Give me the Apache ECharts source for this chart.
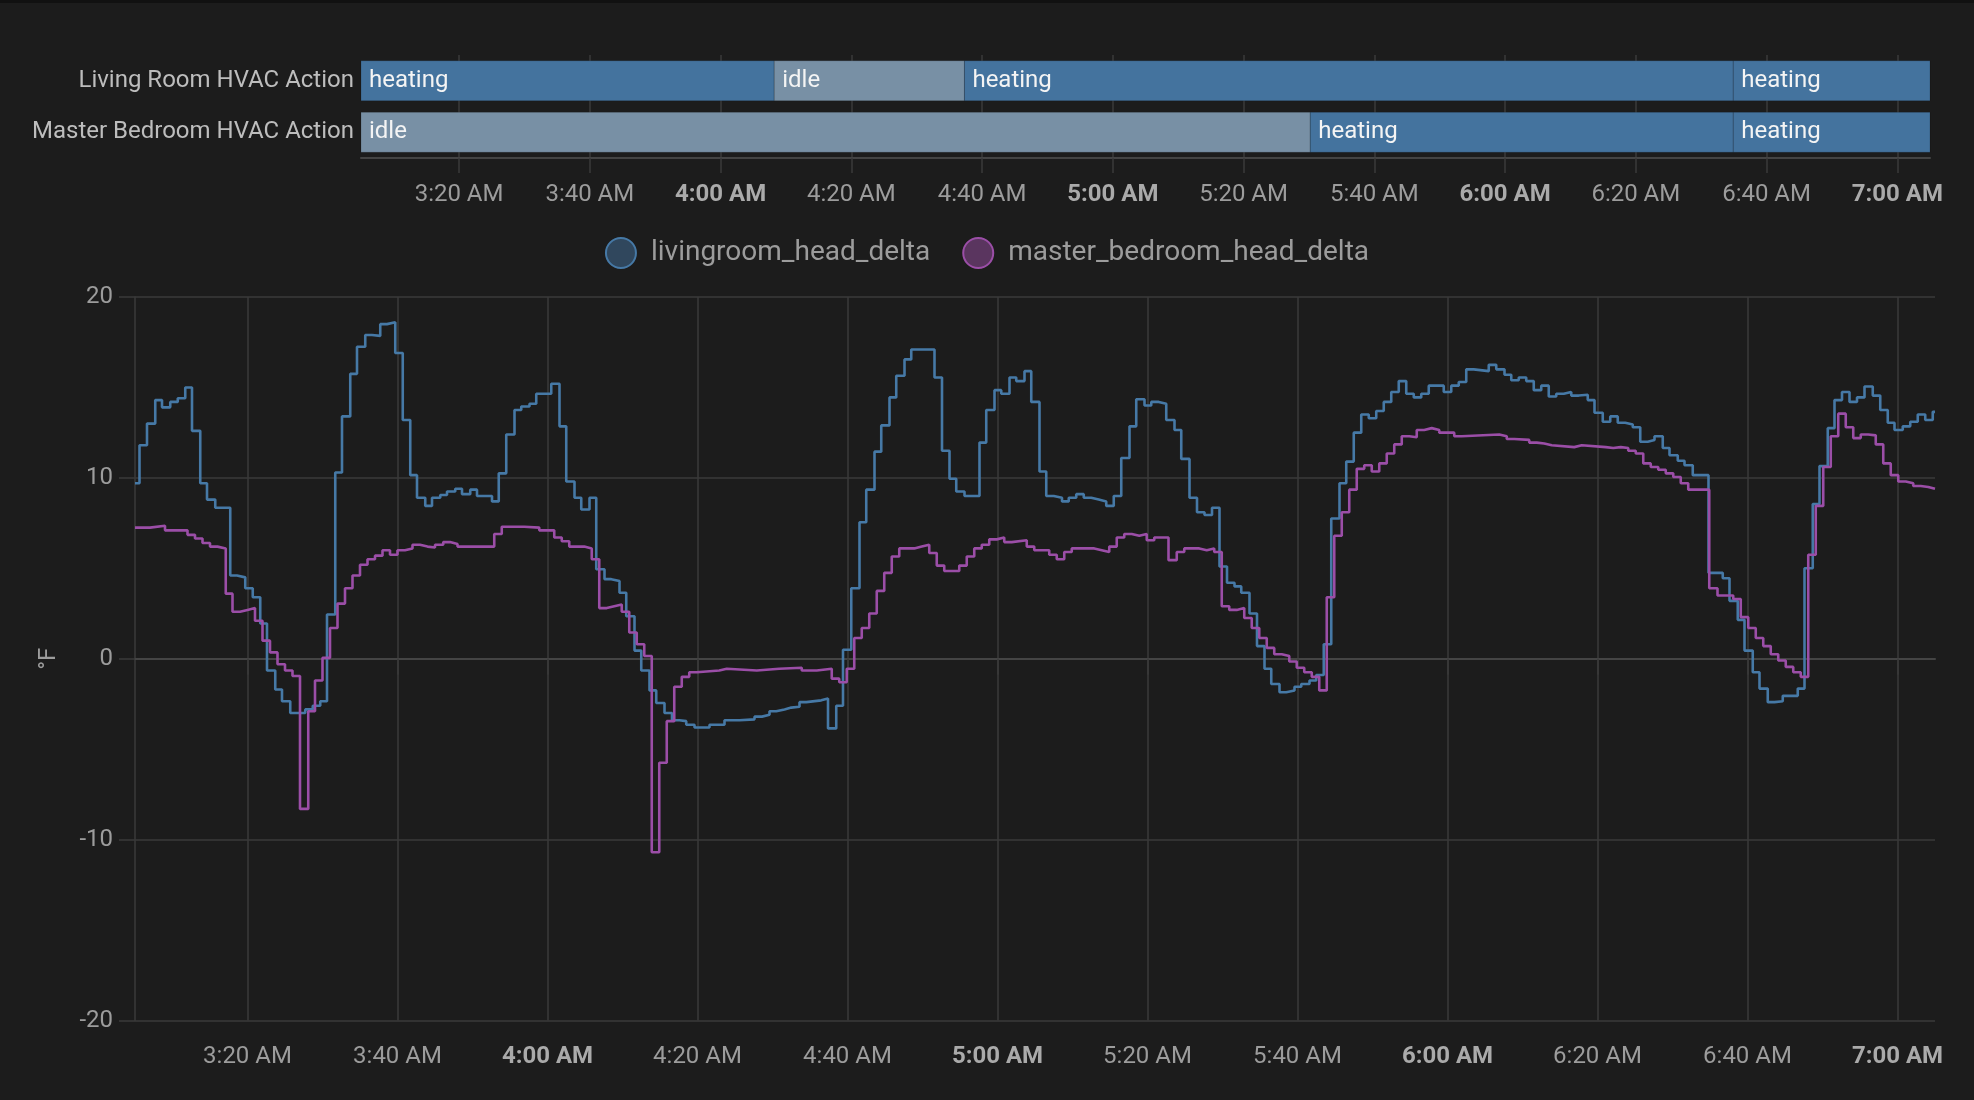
<!DOCTYPE html>
<html>
<head>
<meta charset="utf-8">
<script src="https://cdn.jsdelivr.net/npm/echarts@6.0.0/dist/echarts.min.js"></script>
<style>
    html, body { margin: 0; padding: 0; background: #1c1c1c; }
    #topbar { position: absolute; left: 0; top: 0; width: 1974px; height: 3px; background: #111; z-index: 2; }
    #chart { width: 1974px; height: 1100px; }
</style>
</head>
<body>
<div id="topbar"></div>
<div id="chart"></div>
<script>
// 时间都用 3:00 AM 之后的分钟数
var START_MIN = 5;
var END_MIN = 245;
// 刻度: 每 20 分钟
var tickMinutes = [20, 40, 60, 80, 100, 120, 140, 160, 180, 200, 220, 240];

// 时间线（HVAC 状态）
var timelineRows = ['Living Room HVAC Action', 'Master Bedroom HVAC Action'];
var stateNames = ['heating', 'idle'];
var stateColors = ['#44739e', '#7890a5'];
var livingStates = [0, 1, 0, 0];
var livingStarts = [5, 68.2, 97.3, 214.9];
var bedroomStates = [1, 0, 0];
var bedroomStarts = [5, 150.2, 214.9];

// livingroom_head_delta
var lrTimes = [5.0, 5.6, 6.6, 7.7, 8.6, 9.7, 10.7, 11.7, 12.6, 13.7, 14.6, 15.7, 17.7, 18.6, 19.7, 20.7, 21.7, 22.6, 23.7, 24.6,
    25.7, 27.7, 28.7, 29.7, 30.6, 31.7, 32.6, 33.7, 34.6, 35.7, 36.6, 37.7, 38.6, 39.7, 40.7, 41.7, 42.6, 43.7, 44.6, 45.7,
    46.6, 47.7, 48.6, 49.7, 50.6, 52.6, 53.5, 54.5, 55.6, 56.5, 57.6, 58.5, 60.5, 61.6, 62.5, 63.6, 64.5, 65.6, 66.5, 67.6,
    68.5, 69.6, 70.5, 71.6, 72.5, 73.6, 74.5, 75.6, 76.6, 77.6, 78.5, 79.6, 81.6, 83.6, 85.6, 87.6, 88.6, 89.6, 90.5, 91.6,
    92.5, 93.6, 94.5, 96.5, 97.4, 98.5, 99.4, 100.5, 101.6, 102.5, 103.6, 104.5, 105.6, 106.5, 107.6, 108.5, 111.6, 112.6, 113.6, 114.5,
    115.6, 117.6, 118.5, 119.6, 120.5, 121.6, 122.5, 123.6, 124.5, 125.6, 126.5, 127.5, 128.6, 129.5, 130.5, 131.5, 132.5, 133.5, 134.5, 135.5,
    136.5, 137.6, 138.5, 139.6, 140.5, 141.5, 142.5, 143.6, 144.5, 145.6, 146.6, 147.6, 148.6, 149.6, 150.6, 151.6, 152.5, 153.6, 154.6, 155.6,
    156.5, 157.6, 158.5, 159.6, 160.5, 161.6, 162.5, 163.5, 164.5, 165.6, 166.5, 167.5, 168.5, 169.5, 170.5, 171.5, 172.5, 173.5, 174.5, 175.5,
    176.5, 177.5, 179.5, 180.5, 181.5, 182.5, 183.5, 185.5, 186.5, 187.6, 188.5, 189.5, 190.5, 191.5, 192.5, 193.5, 194.5, 195.5, 196.5, 197.5,
    198.7, 199.6, 200.7, 201.7, 202.7, 203.7, 204.7, 205.7, 206.7, 207.6, 208.7, 209.6, 210.7, 211.6, 212.7, 214.8, 216.7, 217.6, 218.7, 219.6,
    220.7, 221.6, 222.7, 223.6, 224.7, 226.7, 227.6, 228.7, 229.6, 230.7, 231.6, 232.6, 233.6, 234.6, 235.6, 236.7, 237.7, 238.7, 239.6, 240.7,
    241.7, 242.7, 243.7, 244.7, 245];
var lrValues = [9.7, 11.8, 13.0, 14.3, 13.9, 14.2, 14.4, 15.0, 12.6, 9.7, 8.8, 8.35, 4.6, 4.5, 3.9, 3.4, 1.95, -0.65, -1.7, -2.35,
    -3.0, -2.8, -2.6, -2.35, 2.45, 10.3, 13.4, 15.75, 17.25, 17.9, 17.85, 18.5, 18.6, 16.9, 13.2, 10.15, 8.9, 8.45, 8.9, 9.05,
    9.25, 9.4, 9.1, 9.35, 9.0, 8.7, 10.25, 12.4, 13.75, 13.95, 14.1, 14.65, 15.2, 12.85, 9.8, 8.9, 8.25, 8.9, 4.95, 4.4,
    4.3, 3.65, 2.35, 0.45, -0.65, -1.75, -2.45, -3.0, -3.4, -3.45, -3.65, -3.8, -3.65, -3.4, -3.35, -3.2, -3.1, -2.9, -2.8, -2.7,
    -2.65, -2.4, -2.3, -2.2, -3.85, -2.6, 0.5, 3.9, 7.55, 9.35, 11.45, 12.9, 14.45, 15.65, 16.55, 17.1, 15.55, 11.5, 9.95, 9.25,
    9.0, 11.95, 13.75, 14.85, 14.65, 15.55, 15.35, 15.9, 14.2, 10.35, 9.0, 8.9, 8.7, 8.9, 9.1, 8.9, 8.8, 8.7, 8.45, 9.0,
    11.1, 12.85, 14.35, 14.0, 14.2, 14.1, 13.2, 12.65, 11.05, 8.9, 8.1, 7.95, 8.35, 5.1, 4.2, 4.0, 3.65, 2.5, 0.7, -0.55,
    -1.4, -1.85, -1.75, -1.55, -1.4, -1.2, -0.9, 0.8, 7.75, 9.7, 10.9, 12.5, 13.5, 13.3, 13.7, 14.2, 14.75, 15.35, 14.65, 14.45,
    14.65, 15.1, 14.75, 15.1, 15.3, 16.0, 15.9, 16.25, 16.0, 15.7, 15.4, 15.55, 15.35, 14.85, 15.1, 14.5, 14.65, 14.75, 14.55, 14.6,
    14.3, 13.6, 13.1, 13.4, 13.05, 12.95, 12.8, 12.0, 12.1, 12.3, 11.65, 11.25, 10.95, 10.7, 10.15, 4.75, 4.45, 3.2, 2.15, 0.45,
    -0.75, -1.65, -2.4, -2.35, -2.05, -1.65, 5.0, 8.55, 10.65, 12.75, 14.3, 14.75, 14.2, 14.45, 15.05, 14.55, 13.75, 13.05, 12.65, 12.85,
    13.1, 13.5, 13.2, 13.65, 13.65];

// master_bedroom_head_delta
var mbTimes = [5.0, 7.0, 9.0, 12.0, 13.0, 14.0, 15.0, 16.0, 17.1, 18.0, 19.0, 20.0, 21.0, 22.0, 23.0, 24.0, 25.0, 26.0, 27.0, 28.1,
    29.0, 30.0, 31.0, 32.0, 33.0, 34.0, 35.0, 36.0, 37.0, 38.0, 39.0, 40.0, 41.0, 42.0, 43.0, 44.0, 45.0, 46.1, 47.0, 48.0,
    52.9, 53.9, 56.9, 58.9, 60.9, 61.9, 62.9, 64.9, 65.9, 66.9, 67.9, 68.9, 69.9, 70.9, 71.9, 72.9, 73.9, 74.9, 75.9, 76.9,
    77.9, 78.9, 79.9, 82.9, 83.9, 87.9, 90.9, 93.9, 95.9, 97.9, 98.9, 99.9, 100.9, 101.9, 102.9, 103.9, 104.9, 105.9, 106.9, 108.9,
    109.9, 110.9, 111.9, 112.9, 114.9, 115.9, 116.9, 117.9, 118.9, 119.9, 120.9, 121.9, 123.9, 124.9, 126.9, 127.9, 128.9, 129.9, 132.9, 133.9,
    134.9, 135.9, 136.9, 137.9, 138.9, 139.9, 140.9, 142.8, 143.9, 144.9, 146.9, 147.9, 148.9, 149.9, 150.9, 151.9, 152.9, 153.9, 154.9, 155.9,
    156.9, 157.9, 158.9, 159.9, 160.9, 161.9, 162.9, 163.9, 164.9, 165.9, 166.9, 167.9, 168.9, 169.9, 170.9, 171.9, 172.9, 173.9, 174.9, 175.9,
    176.9, 177.9, 178.9, 180.9, 181.9, 186.9, 187.9, 188.9, 190.9, 191.9, 192.9, 193.9, 196.9, 197.9, 201.1, 202.1, 203.1, 204.1, 205.1, 206.1,
    207.1, 208.1, 209.1, 210.1, 211.1, 212.1, 214.9, 216.0, 218.1, 219.1, 220.1, 221.1, 222.1, 223.1, 224.1, 225.1, 226.1, 227.1, 228.1, 229.1,
    230.1, 231.1, 232.1, 233.1, 234.1, 235.1, 236.1, 237.1, 238.1, 239.1, 240.1, 241.1, 242.1, 243.1, 244.1, 245];
var mbValues = [7.25, 7.35, 7.1, 6.85, 6.65, 6.4, 6.2, 6.1, 3.6, 2.6, 2.7, 2.8, 2.1, 1.0, 0.35, -0.3, -0.65, -0.95, -8.3, -2.9,
    -1.2, 0.05, 1.7, 3.05, 3.9, 4.6, 5.2, 5.5, 5.7, 6.0, 5.75, 6.0, 6.1, 6.3, 6.2, 6.15, 6.3, 6.45, 6.35, 6.2,
    6.9, 7.3, 7.25, 7.1, 6.7, 6.5, 6.2, 6.1, 5.5, 2.8, 2.9, 3.0, 2.6, 1.45, 0.8, 0.15, -10.7, -5.75, -3.45, -1.55,
    -1.0, -0.75, -0.65, -0.55, -0.65, -0.55, -0.5, -0.65, -0.55, -1.1, -1.3, -0.55, 1.15, 1.7, 2.5, 3.75, 4.75, 5.65, 6.1, 6.2,
    6.3, 5.85, 5.15, 4.85, 5.15, 5.65, 6.1, 6.3, 6.6, 6.7, 6.45, 6.55, 6.2, 6.0, 5.75, 5.5, 5.9, 6.1, 6.0, 5.9,
    6.2, 6.7, 6.9, 6.8, 6.9, 6.55, 6.7, 5.45, 5.9, 6.1, 6.0, 6.1, 5.9, 2.9, 2.7, 2.8, 2.25, 1.7, 1.15, 0.6,
    0.25, 0.15, -0.15, -0.5, -0.75, -1.0, -1.75, 3.4, 6.8, 8.1, 9.35, 10.5, 10.7, 10.35, 10.8, 11.35, 11.85, 12.3, 12.25, 12.65,
    12.75, 12.65, 12.5, 12.3, 12.4, 12.3, 12.15, 12.1, 11.95, 11.9, 11.8, 11.7, 11.8, 11.7, 11.65, 11.7, 11.65, 11.5, 11.35, 10.8,
    10.6, 10.45, 10.25, 10.05, 9.7, 9.35, 3.9, 3.5, 3.3, 2.3, 1.7, 1.15, 0.7, 0.25, -0.1, -0.45, -0.75, -1.0, 5.75, 8.45,
    10.6, 12.3, 13.55, 12.8, 12.2, 12.4, 12.35, 11.85, 10.8, 10.15, 9.8, 9.7, 9.55, 9.5, 9.4, 9.4];

var yTicks = { min: -20, max: 20, step: 10 };

// 分钟数 -> "h:mm AM"，整点加粗
let timeLabel = (value) => {
    let total = Math.round(value);
    let h = 3 + Math.floor(total / 60), m = total % 60;
    let txt = (h % 12 || 12) + ':' + String(m).padStart(2, '0') + ' ' + (h < 12 ? 'AM' : 'PM');
    return m == 0 ? '{b|' + txt + '}' : txt;
};

// 状态条数据: [行, 开始, 结束, 状态]
let timelineData = [];
let pushRow = (row, states, starts) => {
    states.forEach((s, i) => {
        let end = i + 1 < starts.length ? starts[i + 1] : END_MIN;
        timelineData.push([row, starts[i], end, s]);
    });
};
pushRow(0, livingStates, livingStarts);
pushRow(1, bedroomStates, bedroomStarts);

let GRID_COLOR = '#3a3a3a';
let LABEL_COLOR = '#9c9c9c';
let FONT = 'Roboto';

let timeAxis = (gridIndex, labelMargin, tickLen) => ({
    type: 'value',
    gridIndex: gridIndex,
    min: START_MIN,
    max: END_MIN,
    axisLine: { show: true, lineStyle: { color: '#444', width: 2 } },
    axisTick: { show: true, length: tickLen, customValues: tickMinutes, lineStyle: { color: GRID_COLOR, width: 1.5 } },
    splitLine: { show: true, lineStyle: { color: GRID_COLOR, width: 1.5 } },
    axisLabel: {
        color: LABEL_COLOR, fontSize: 24, fontFamily: FONT, margin: labelMargin,
        customValues: tickMinutes,
        formatter: timeLabel,
        rich: { b: { fontWeight: 'bold', fontSize: 24, fontFamily: FONT, color: '#aaa' } }
    }
});

let chart = echarts.init(document.getElementById('chart'));

let option = {
    backgroundColor: '#1c1c1c',
    animation: false,
    textStyle: { fontFamily: FONT },
    grid: [
        { left: 361, right: 44, top: 55, height: 103 },
        { left: 135, right: 39, top: 297, height: 723.5 }
    ],
    legend: {
        top: 232,
        left: 'center',
        icon: 'circle',
        itemWidth: 30,
        itemHeight: 30,
        itemGap: 32,
        textStyle: { color: LABEL_COLOR, fontSize: 28, fontFamily: FONT, padding: [0, 0, 0, 10] },
        data: [
            { name: 'livingroom_head_delta', itemStyle: { color: '#30475d', borderColor: '#4679a6', borderWidth: 2 } },
            { name: 'master_bedroom_head_delta', itemStyle: { color: '#5a355f', borderColor: '#9b4ea7', borderWidth: 2 } }
        ]
    },
    xAxis: [timeAxis(0, 25, 15), timeAxis(1, 24, 16)],
    yAxis: [
        {
            type: 'category',
            gridIndex: 0,
            inverse: true,
            data: timelineRows,
            axisLine: { show: false },
            axisTick: { show: false },
            splitLine: { show: false },
            axisLabel: { color: '#bdbdbd', fontSize: 24, fontFamily: FONT, margin: 7 }
        },
        {
            type: 'value',
            gridIndex: 1,
            min: yTicks.min,
            max: yTicks.max,
            interval: yTicks.step,
            name: '°F',
            nameLocation: 'middle',
            nameGap: 74,
            nameTextStyle: { color: LABEL_COLOR, fontSize: 24, fontFamily: FONT },
            axisLine: { show: true, lineStyle: { color: GRID_COLOR, width: 1.5 } },
            axisTick: { show: true, length: 16, lineStyle: { color: GRID_COLOR, width: 1.5 } },
            splitLine: { show: true, lineStyle: { color: GRID_COLOR, width: 1.5 } },
            axisLabel: { color: LABEL_COLOR, fontSize: 24, fontFamily: FONT, margin: 22 }
        }
    ],
    series: [
        {
            type: 'custom',
            xAxisIndex: 0,
            yAxisIndex: 0,
            encode: { x: [1, 2], y: 0 },
            data: timelineData,
            renderItem: (params, api) => {
                let row = api.value(0);
                let p0 = api.coord([api.value(1), row]);
                let p1 = api.coord([api.value(2), row]);
                let s = api.value(3);
                let h = 40;
                return {
                    type: 'group',
                    children: [
                        {
                            type: 'rect',
                            shape: { x: p0[0], y: p0[1] - h / 2, width: p1[0] - p0[0], height: h },
                            style: { fill: stateColors[s], stroke: 'rgba(0,0,0,0.15)', lineWidth: 1 }
                        },
                        {
                            type: 'text',
                            style: {
                                text: stateNames[s], x: p0[0] + 8, y: p0[1],
                                verticalAlign: 'middle', fill: '#f4f4f4', fontSize: 24, fontFamily: FONT
                            }
                        }
                    ]
                };
            }
        },
        {
            name: 'livingroom_head_delta',
            type: 'line',
            xAxisIndex: 1,
            yAxisIndex: 1,
            step: 'end',
            showSymbol: false,
            color: '#4679a6',
            lineStyle: { width: 2.6, color: '#4679a6' },
            data: lrTimes.map((m, i) => [m, lrValues[i]])
        },
        {
            name: 'master_bedroom_head_delta',
            type: 'line',
            xAxisIndex: 1,
            yAxisIndex: 1,
            step: 'end',
            showSymbol: false,
            color: '#9b4ea7',
            lineStyle: { width: 2.6, color: '#9b4ea7' },
            data: mbTimes.map((m, i) => [m, mbValues[i]])
        }
    ]
};

chart.setOption(option);
</script>
</body>
</html>
